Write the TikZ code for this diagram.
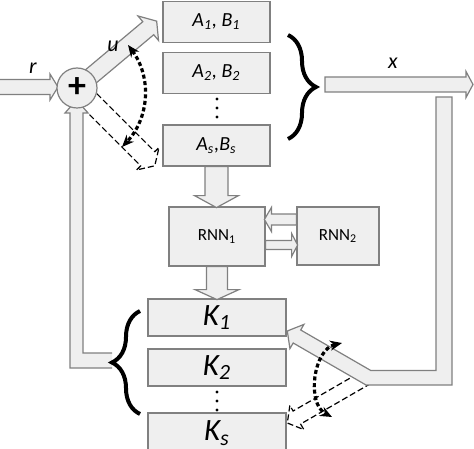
\documentclass[tikz,border=0pt]{standalone}
\usepackage{fontspec}
\setmainfont{Carlito}
\usetikzlibrary{arrows.meta, decorations.pathreplacing, positioning, calc}

\definecolor{pipefill}{HTML}{EFEFEF}
\definecolor{pipeline}{HTML}{808080}

\begin{document}
\begin{tikzpicture}[x=0.5pt, y=-0.5pt,
    pipe/.style={draw=pipeline, fill=pipefill, line width=0.6pt, line join=miter},
    hollow/.style={draw=black, line width=0.6pt, dash pattern=on 3pt off 1.5pt},
    fatarrow/.style n args={4}{insert path={(0,-#3) -- ({#1-#2},-#3) -- ({#1-#2},-#4)
      -- (#1,0) -- ({#1-#2},#4) -- ({#1-#2},#3) -- (0,#3) -- cycle}},
    block/.style={draw=pipeline, fill=pipefill, line width=0.6pt, inner sep=0pt},
    abbox/.style={block, minimum width=53.5pt, minimum height=20.5pt,
      font=\fontsize{10}{12}\selectfont\itshape},
    kbox/.style={block, minimum width=69pt, minimum height=18.5pt,
      font=\fontsize{15.5}{18}\selectfont\itshape},
    rnnbox/.style={block, font=\fontsize{8.5}{10}\selectfont},
    sumnode/.style={circle, draw=pipeline, fill=pipefill, line width=0.6pt,
      minimum size=20pt, inner sep=0pt, font=\fontsize{18}{18}\selectfont\bfseries},
    bigbrace/.style={decorate, decoration={brace, amplitude=14pt}, line width=2pt},
    dotarrow/.style={{Stealth[length=6pt,width=5pt]}-{Stealth[length=6pt,width=5pt]},
      line width=1.6pt, dash pattern=on 2pt off 1.3pt},
    lbl/.style={font=\fontsize{11}{13}\selectfont\itshape}]
  \useasboundingbox (0,0) rectangle (474,448);
  \clip (0,0) rectangle (474,448);

  % Model bank
  \node[abbox] (ab1) at (216.5,22) {A\textsubscript{1}, B\textsubscript{1}};
  \node[abbox] (ab2) at (216.5,73) {A\textsubscript{2}, B\textsubscript{2}};
  \node[abbox] (abs) at (216.5,145.5) {A\textsubscript{s},B\textsubscript{s}};
  \foreach \y in {99,108,117}
    \fill (217,\y) circle (0.8pt);

  % Networks
  \node[rnnbox, minimum width=48pt, minimum height=29.5pt] (rnn1) at (217,236.5) {RNN\textsubscript{1}};
  \node[rnnbox, minimum width=41pt, minimum height=29pt] (rnn2) at (338,236) {RNN\textsubscript{2}};

  % Controller bank
  \node[kbox] (k1) at (217,317.5) {K\textsubscript{1}};
  \node[kbox] (k2) at (217,367.5) {K\textsubscript{2}};
  \node[kbox, minimum height=20pt] (ks) at (217,433) {K\textsubscript{s}};
  \foreach \y in {392,401,410}
    \fill (217,\y) circle (0.8pt);

  % Switched positions (dashed)
  \draw[hollow, shift={(77,88)}, rotate=-45, fatarrow={110}{10}{10}{16}];
  \draw[hollow, shift={(367,377)}, rotate=210, fatarrow={92}{11}{7.5}{14}];

  % Signal arrows
  \draw[pipe, shift={(-2,87)}, fatarrow={60}{8}{7.5}{13}];
  \draw[pipe, shift={(77,88)}, rotate=40, fatarrow={104}{11}{8.5}{16}];
  \draw[pipe, shift={(abs.south)}, rotate=-90, fatarrow={41}{12}{11.5}{22}];
  \draw[pipe, shift={(rnn1.south)}, rotate=-90, fatarrow={33}{10}{10.5}{22}];
  \draw[pipe, shift={($(rnn2.west)+(0,-16.5)$)}, rotate=180, fatarrow={32}{7}{5.5}{12}];
  \draw[pipe, shift={($(rnn1.east)+(0,8.5)$)}, fatarrow={32}{6}{4.5}{11.5}];
  \draw[pipe, shift={(325,84.5)}, fatarrow={148}{7}{7.5}{13}];

  % State return
  \draw[pipe] (436,97) -- (452,97) -- (452,385) -- (366,385) -- (293.2,343)
    -- (289.9,348.6) -- (287.3,331) -- (303.9,324.4) -- (300.7,330)
    -- (370.8,370.5) -- (436,370.5) -- cycle;

  % Feedback
  \draw[pipe] (112,353) -- (83,353) -- (83,113) -- (88,113) -- (76.5,100)
    -- (65,113) -- (70,113) -- (70,368) -- (112,368);

  \node[sumnode] (sum) at (77,88) {+};

  % Braces
  \draw[bigbrace] (140,414) -- (140,311);
  \draw[bigbrace] (288,35) -- (288,139);

  % Switching
  \coordinate (swu) at (128,45);
  \coordinate (swd) at (122,147);
  \coordinate (swk) at (342,343);
  \coordinate (swkd) at (332,417);
  \draw[dotarrow] (swu) to[bend left=40] (swd);
  \draw[dotarrow] (swk) to[bend right=70] (swkd);

  % Labels
  \node[lbl] (rlabel) at (33,68) {r};
  \node[lbl] (ulabel) at (113,46) {u};
  \node[lbl] (xlabel) at (393,63) {x};
\end{tikzpicture}
\end{document}
